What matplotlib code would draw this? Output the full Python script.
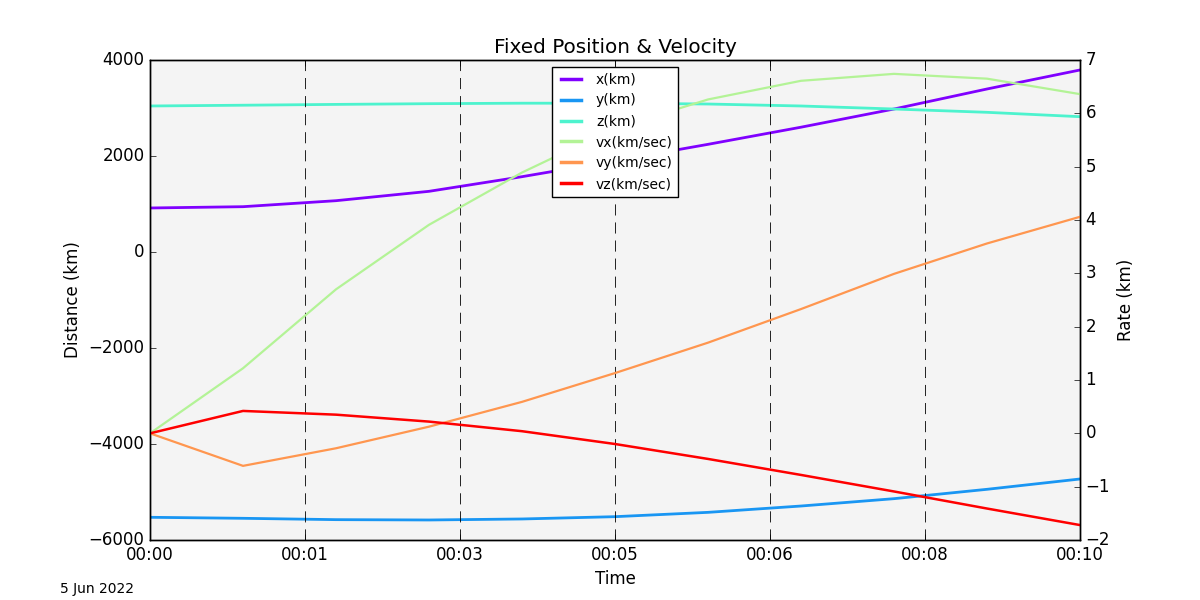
import matplotlib
matplotlib.use("Agg")
import matplotlib.pyplot as plt
import numpy as np

# time in seconds, samples every minute
t = [0, 60, 120, 180, 240, 300, 360, 420, 480, 540, 600]

x_km = [917, 944, 1069, 1264, 1569, 1900, 2243, 2600, 2979, 3396, 3792]
y_km = [-5527, -5548, -5576, -5583, -5562, -5514, -5424, -5292, -5139, -4944, -4729]
z_km = [3042, 3058, 3075, 3090, 3100, 3100, 3083, 3042, 2979, 2910, 2819]

vx = [0.0, 1.22, 2.70, 3.91, 4.89, 5.72, 6.26, 6.61, 6.74, 6.65, 6.36]
vy = [0.0, -0.61, -0.28, 0.125, 0.59, 1.13, 1.70, 2.33, 2.99, 3.56, 4.06]
vz = [0.0, 0.42, 0.35, 0.22, 0.04, -0.20, -0.48, -0.78, -1.09, -1.41, -1.72]

tick_pos = [0, 100, 200, 300, 400, 500, 600]
tick_labels = ["00:00", "00:01", "00:03", "00:05", "00:06", "00:08", "00:10"]

names = ["x(km)", "y(km)", "z(km)", "vx(km/sec)", "vy(km/sec)", "vz(km/sec)"]


def main():
    plt.style.use("classic")
    colors = plt.cm.rainbow(np.linspace(0, 1, 6))

    fig, ax1 = plt.subplots(figsize=(12, 6), dpi=100)
    fig.patch.set_facecolor("white")
    ax1.set_facecolor("#f4f4f4")
    ax2 = ax1.twinx()

    lines = []
    for vals, c, name in zip([x_km, y_km, z_km], colors[:3], names[:3]):
        lines += ax1.plot(t, vals, color=c, lw=2, label=name)
    for vals, c, name in zip([vx, vy, vz], colors[3:], names[3:]):
        lines += ax2.plot(t, vals, color=c, lw=1.6 if name != "vz(km/sec)" else 1.8, label=name)

    ax1.set_xlim(0, 600)
    ax1.set_ylim(-6000, 4000)
    ax2.set_ylim(-2, 7)
    ax1.set_xticks(tick_pos)
    ax1.set_xticklabels(tick_labels)
    ax1.xaxis.grid(True, color="black", linestyle=(0, (8, 5)), lw=0.6)
    ax1.yaxis.grid(False)

    ax1.set_title("Fixed Position & Velocity")
    ax1.set_xlabel("Time")
    ax1.set_ylabel("Distance (km)")
    ax2.set_ylabel("Rate (km)")

    leg = ax2.legend(lines, names, loc="upper center", fontsize=10)
    for ln in leg.get_lines():
        ln.set_linewidth(2.5)

    fig.text(0.05, 0.012, "5 Jun 2022", fontsize=10)

    fig.savefig("out.png", dpi=100)


if __name__ == "__main__":
    main()
